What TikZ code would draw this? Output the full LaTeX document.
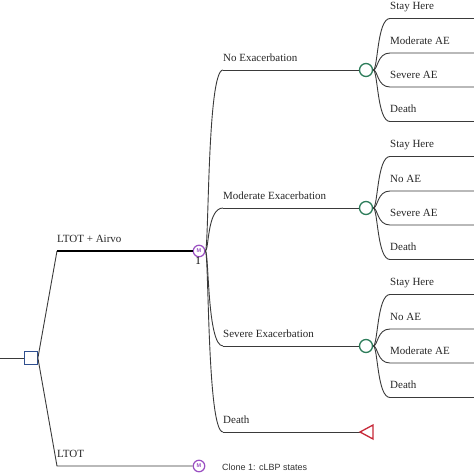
\documentclass[tikz,border=0pt]{standalone}
\usepackage{fontspec}
\setmainfont{Liberation Serif}
\newfontfamily\sansf{Liberation Sans}
\definecolor{decblue}{HTML}{2F4F8F}
\definecolor{chgreen}{HTML}{2E7D5B}
\definecolor{mkpurple}{HTML}{9A4FC2}
\definecolor{termred}{HTML}{C62838}
\definecolor{edge}{HTML}{3A3A3A}
\begin{document}
\begin{tikzpicture}[x=1pt,y=-1pt,
  conn/.style={draw=edge, line width=0.9pt},
  thick conn/.style={draw=black, line width=2pt},
  lbl/.style={anchor=base west, inner sep=0, font=\fontsize{11}{11}\selectfont, text=black!85},
  chance/.style={circle, draw=chgreen, line width=1.3pt, minimum size=13pt, inner sep=0},
  markov/.style={circle, draw=mkpurple, line width=1.2pt, minimum size=11.5pt, inner sep=0,
    text=mkpurple, font=\sansf\fontsize{5.5}{5.5}\selectfont\bfseries},
  dec/.style={rectangle, draw=decblue, line width=1.3pt, minimum size=12.5pt, inner sep=0},
]
\useasboundingbox (0,0) rectangle (474,474);

% decision node
\coordinate (in) at (0,358);
\node[dec] (D) at (31,358) {};
\draw[conn] (in) -- (D.west);

% strategy branches
\coordinate (a1) at (57,251);
\coordinate (a2) at (57,466);
\node[markov] (M1) at (199,251) {M};
\node[markov] (M2) at (199,466) {M};
\node[anchor=north, inner sep=0, font=\fontsize{11}{11}\selectfont] (one) at (198,257) {1};
\draw[conn] (D.east) -- (a1);
\draw[thick conn] (a1) -- (M1.west);
\draw[conn] (D.east) -- (a2) -- (M2.west);
\node[lbl] (la1) at (57,242) {LTOT + Airvo};
\node[lbl] (la2) at (57,457) {LTOT};
\node[anchor=west, inner sep=0, font=\sansf\fontsize{9}{9}\selectfont, text=black!80] (clone) at (222,467) {Clone 1: cLBP states};

% markov children
\foreach \nm/\y/\txt in {s1/70/No Exacerbation, s2/208/Moderate Exacerbation, s3/346/Severe Exacerbation, s4/432/Death}{
  \coordinate (\nm) at (223,\y);
  \draw[conn] (M1.east) .. controls (209,251) and (207,\y) .. (\nm);
  \node[lbl] (l\nm) at (223,\y-9) {\txt};
}
\node[chance] (C1) at (366,70) {};
\node[chance] (C2) at (366,208) {};
\node[chance] (C3) at (366,346) {};
\draw[conn] (s1) -- (C1.west);
\draw[conn] (s2) -- (C2.west);
\draw[conn] (s3) -- (C3.west);
\coordinate (T) at (360,432);
\draw[conn] (s4) -- (T);
\draw[draw=termred, line width=1.3pt, line join=miter] (T) -- (373,425) -- (373,439) -- cycle;

% chance children
\foreach \c/\cy/\la/\lb/\lc/\ld in {C1/70/Stay Here/Moderate AE/Severe AE/Death,
                                    C2/208/Stay Here/No AE/Severe AE/Death,
                                    C3/346/Stay Here/No AE/Moderate AE/Death}{
  \foreach \k/\off/\t in {a/-51.5/\la, b/-17/\lb, c/17/\lc, d/51.5/\ld}{
    \coordinate (\c\k) at (390,\cy+\off);
    \coordinate (\c\k e) at (476,\cy+\off);
    \draw[conn] (\c.east) .. controls (378,\cy) and (377,\cy+\off) .. (\c\k) -- (\c\k e);
    \node[lbl] (\c\k l) at (390,\cy+\off-9) {\t};
  }
}
\end{tikzpicture}
\end{document}
